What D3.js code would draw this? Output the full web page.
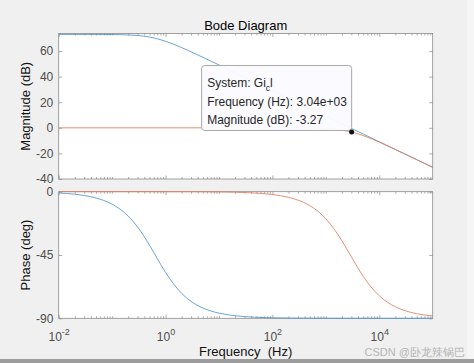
<!DOCTYPE html>
<html>
<head>
<meta charset="utf-8">
<script src="https://cdn.jsdelivr.net/npm/d3@7"></script>
<style>
  body { margin: 0; background: #f0f0f0; }
  svg { display: block; font-family: "Liberation Sans", Arial, sans-serif; }
</style>
</head>
<body>
<div id="chart"></div>
<script>
// frequency points (Hz)
var freqHz = [0.01, 0.02, 0.03, 0.05, 0.07, 0.1, 0.2, 0.3, 0.5, 0.7,
  1, 2, 3, 5, 7, 10, 20, 30, 50, 70,
  100, 200, 300, 500, 700, 1000, 2000, 3000, 5000, 7000,
  10000, 20000, 30000, 50000, 70000, 100000];

// open loop (blue)
var openMagDb = [73.00, 73.00, 72.99, 72.97, 72.95, 72.90, 72.60, 72.14, 70.93, 69.58,
  67.63, 62.68, 59.39, 55.07, 52.19, 49.11, 43.10, 39.58, 35.14, 32.22,
  29.12, 23.10, 19.58, 15.14, 12.22, 9.12, 3.10, -0.42, -4.86, -7.78,
  -10.88, -16.90, -20.42, -24.86, -27.78, -30.88];
var openPhaseDeg = [-0.90, -1.79, -2.68, -4.47, -6.24, -8.88, -17.35, -25.11, -37.99, -47.56,
  -57.38, -72.26, -77.96, -82.71, -84.78, -86.34, -88.17, -88.78, -89.27, -89.48,
  -89.63, -89.82, -89.88, -89.93, -89.95, -89.96, -89.98, -89.99, -89.99, -89.99,
  -90, -90, -90, -90, -90, -90];

// closed loop Gi_cl (orange)
var closedMagDb = [0, 0, 0, 0, 0, 0, 0, 0, 0, 0,
  0, 0, 0, 0, 0, 0, 0, 0, 0, 0,
  -0.01, -0.02, -0.05, -0.13, -0.25, -0.50, -1.72, -3.21, -6.06, -8.42,
  -11.19, -16.95, -20.43, -24.84, -27.75, -30.85];
var closedPhaseDeg = [0, 0, 0, 0, 0, 0, 0, 0, 0, 0,
  -0.02, -0.04, -0.06, -0.10, -0.14, -0.20, -0.40, -0.60, -1.00, -1.40,
  -2.00, -3.99, -5.97, -9.88, -13.71, -19.21, -34.87, -46.26, -60.14, -67.71,
  -74.01, -81.83, -84.53, -86.71, -87.65, -88.36];

var magTicks = [-40, -20, 0, 20, 40, 60];
var phaseTicks = [-90, -45, 0];
var freqTickExp = [-2, 0, 2, 4];

// data tip
var tipFreq = 3040, tipMag = -3.27;

var W = 474, H = 363;
var left = 58.7, right = 432.7;
var top1 = 33.5, bot1 = 179, top2 = 191.7, bot2 = 318.3;
var blue = "#4f95cf", orange = "#e27d5a";
var axisCol = "#8a8a8a", tickTextCol = "#4d4d4d";

var svg = d3.select("#chart").append("svg")
    .attr("width", W).attr("height", H);

svg.append("rect").attr("width", W).attr("height", H).attr("fill", "#f0f0f0");
svg.append("rect").attr("x", 467).attr("y", 0).attr("width", W - 467).attr("height", H).attr("fill", "#f6f6f6");
svg.append("rect").attr("x", 0).attr("y", 359).attr("width", W).attr("height", 4).attr("fill", "#9c9c9c");

var x = d3.scaleLog().domain([1e-2, 1e5]).range([left, right]);
var yMag = d3.scaleLinear().domain([-40, 73.7]).range([bot1, top1]);
var yPh = d3.scaleLinear().domain([-90, 0]).range([bot2, top2]);

var majors = freqTickExp.map(function(e) { return Math.pow(10, e); });
var minors = [];
for (var e = -2; e <= 4; e++) {
  for (var m = 1; m <= 9; m++) {
    var v = m * Math.pow(10, e);
    if (majors.indexOf(v) < 0 && v <= 1e5) minors.push(v);
  }
}

function panel(y, t, b, ticks, id, showX) {
  svg.append("clipPath").attr("id", id)
    .append("rect").attr("x", left).attr("y", t - 1).attr("width", right - left).attr("height", b - t + 2);
  svg.append("rect").attr("x", left).attr("y", t).attr("width", right - left).attr("height", b - t)
    .attr("fill", "#fff");

  var g = svg.append("g");
  // y axes
  g.append("g").attr("transform", "translate(" + left + ",0)")
    .call(d3.axisLeft(y).tickValues(ticks).tickSize(-3.5).tickPadding(5.4)
      .tickFormat(function(d) { return String(d); }));
  g.append("g").attr("transform", "translate(" + right + ",0)")
    .call(d3.axisRight(y).tickValues(ticks).tickSize(-3.5).tickFormat(""));
  // x axes, major + minor
  var bx = g.append("g").attr("transform", "translate(0," + b + ")")
    .call(d3.axisBottom(x).tickValues(majors).tickSize(-3.5).tickFormat(""));
  g.append("g").attr("transform", "translate(0," + b + ")")
    .call(d3.axisBottom(x).tickValues(minors).tickSize(-2).tickFormat(""));
  g.append("g").attr("transform", "translate(0," + t + ")")
    .call(d3.axisTop(x).tickValues(majors).tickSize(-3.5).tickFormat(""));
  g.append("g").attr("transform", "translate(0," + t + ")")
    .call(d3.axisTop(x).tickValues(minors).tickSize(-2).tickFormat(""));

  g.selectAll(".domain").remove();
  g.selectAll(".tick line").attr("stroke", axisCol).attr("stroke-width", 0.7);
  g.selectAll("text").attr("fill", tickTextCol).style("font-size", "12px")
    .style("font-family", "'Liberation Sans', Arial, sans-serif");

  if (showX) {
    bx.selectAll(".tick").each(function(d, i) {
      var tx = d3.select(this).append("text")
        .attr("y", 341 - b).attr("fill", tickTextCol)
        .attr("text-anchor", "middle")
        .style("font-size", "12px");
      tx.append("tspan").text("10");
      tx.append("tspan").attr("dy", -5.5).style("font-size", "9px").text(freqTickExp[i]);
    });
  }

  svg.append("rect").attr("x", left).attr("y", t).attr("width", right - left).attr("height", b - t)
    .attr("fill", "none").attr("stroke", axisCol).attr("stroke-width", 0.8);
}

panel(yMag, top1, bot1, magTicks, "clipMag", false);
panel(yPh, top2, bot2, phaseTicks, "clipPh", true);

function drawLine(y, vals, col, clip) {
  var line = d3.line()
    .x(function(d, i) { return x(freqHz[i]); })
    .y(function(d) { return y(d); })
    .curve(d3.curveMonotoneX);
  svg.append("path").datum(vals)
    .attr("clip-path", "url(#" + clip + ")")
    .attr("fill", "none").attr("stroke", col).attr("stroke-width", 0.85)
    .attr("d", line);
}

drawLine(yMag, openMagDb, blue, "clipMag");
drawLine(yMag, closedMagDb, orange, "clipMag");
drawLine(yPh, openPhaseDeg, blue, "clipPh");
drawLine(yPh, closedPhaseDeg, orange, "clipPh");

// data tip box
var px = x(tipFreq), py = yMag(tipMag);
var bw = 150, bh = 65;
svg.append("rect").attr("x", px - bw).attr("y", py - bh - 1.5).attr("width", bw).attr("height", bh)
  .attr("rx", 3).attr("fill", "#fbfbff").attr("fill-opacity", 0.95)
  .attr("stroke", "#a8a8a8").attr("stroke-width", 1);
svg.append("circle").attr("cx", px).attr("cy", py).attr("r", 2.5).attr("fill", "#111");

var tipX = px - bw + 5.5, tipY = py - bh - 1.5;
var t1 = svg.append("text").attr("x", tipX).attr("y", tipY + 22)
  .attr("fill", "#262626").style("font-size", "12px");
t1.append("tspan").text("System: Gi");
t1.append("tspan").attr("dy", 3.5).style("font-size", "8.5px").text("c");
t1.append("tspan").attr("dy", -3.5).text("l");
svg.append("text").attr("x", tipX).attr("y", tipY + 41)
  .attr("fill", "#262626").style("font-size", "12px")
  .text("Frequency (Hz): " + d3.format(".2e")(tipFreq).replace("e+3", "e+03"));
svg.append("text").attr("x", tipX).attr("y", tipY + 59)
  .attr("fill", "#262626").style("font-size", "12px")
  .text("Magnitude (dB): " + tipMag);

// titles
svg.append("text").attr("x", (left + right) / 2).attr("y", 30)
  .attr("text-anchor", "middle").attr("fill", "#000").style("font-size", "13px")
  .text("Bode Diagram");
svg.append("text").attr("transform", "translate(30," + (top1 + bot1) / 2 + ") rotate(-90)")
  .attr("text-anchor", "middle").attr("fill", "#111").style("font-size", "13px")
  .text("Magnitude (dB)");
svg.append("text").attr("transform", "translate(30," + (top2 + bot2) / 2 + ") rotate(-90)")
  .attr("text-anchor", "middle").attr("fill", "#111").style("font-size", "13px")
  .text("Phase (deg)");
svg.append("text").attr("x", (left + right) / 2).attr("y", 356)
  .attr("text-anchor", "middle").attr("fill", "#111").style("font-size", "13px")
  .attr("xml:space", "preserve")
  .text("Frequency  (Hz)");

// watermark
svg.append("text").attr("x", 465).attr("y", 356)
  .attr("text-anchor", "end").attr("fill", "#b4b4b4").style("font-size", "11px")
  .text("CSDN @卧龙辣锅巴");
</script>
</body>
</html>
